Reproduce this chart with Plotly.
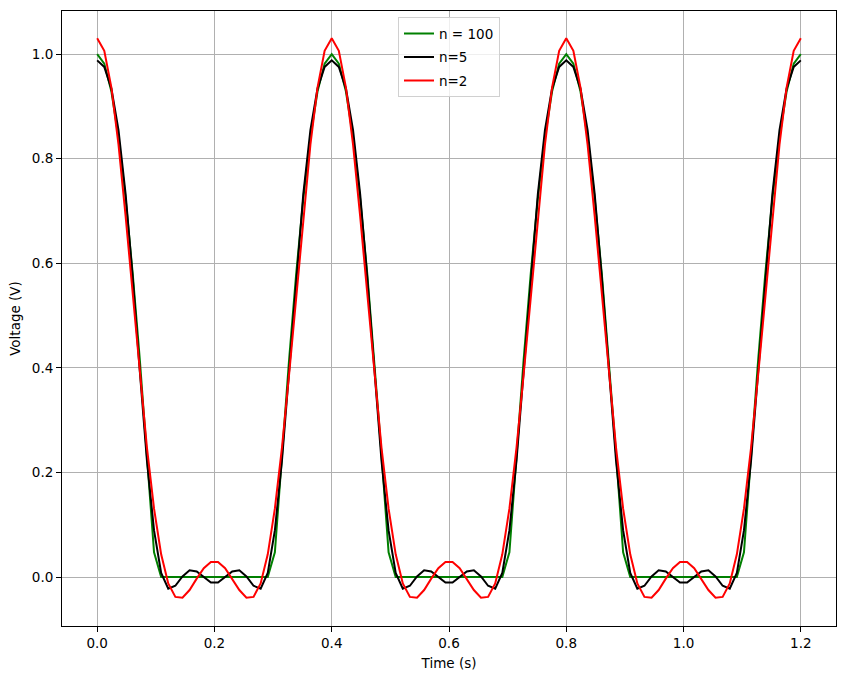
import plotly.graph_objects as go

# time samples (s), 100 points over 0..1.2
time_s = [
    0.00000, 0.01212, 0.02424, 0.03636, 0.04848, 0.06061, 0.07273, 0.08485, 0.09697, 0.10909,
    0.12121, 0.13333, 0.14545, 0.15758, 0.16970, 0.18182, 0.19394, 0.20606, 0.21818, 0.23030,
    0.24242, 0.25455, 0.26667, 0.27879, 0.29091, 0.30303, 0.31515, 0.32727, 0.33939, 0.35152,
    0.36364, 0.37576, 0.38788, 0.40000, 0.41212, 0.42424, 0.43636, 0.44848, 0.46061, 0.47273,
    0.48485, 0.49697, 0.50909, 0.52121, 0.53333, 0.54545, 0.55758, 0.56970, 0.58182, 0.59394,
    0.60606, 0.61818, 0.63030, 0.64242, 0.65455, 0.66667, 0.67879, 0.69091, 0.70303, 0.71515,
    0.72727, 0.73939, 0.75152, 0.76364, 0.77576, 0.78788, 0.80000, 0.81212, 0.82424, 0.83636,
    0.84848, 0.86061, 0.87273, 0.88485, 0.89697, 0.90909, 0.92121, 0.93333, 0.94545, 0.95758,
    0.96970, 0.98182, 0.99394, 1.00606, 1.01818, 1.03030, 1.04242, 1.05455, 1.06667, 1.07879,
    1.09091, 1.10303, 1.11515, 1.12727, 1.13939, 1.15152, 1.16364, 1.17576, 1.18788, 1.20000,
]

# n = 100 (green)
v_n100 = [
    1.0000, 0.9819, 0.9284, 0.8413, 0.7237, 0.5801, 0.4154, 0.2358, 0.0476, 0.0, 0.0, 0.0, 0.0, 0.0, 0.0, 0.0, 0.0,
    0.0, 0.0, 0.0, 0.0, 0.0, 0.0, 0.0, 0.0, 0.0476, 0.2358, 0.4154, 0.5801, 0.7237, 0.8413, 0.9284, 0.9819,
    1.0000, 0.9819, 0.9284, 0.8413, 0.7237, 0.5801, 0.4154, 0.2358, 0.0476, 0.0, 0.0, 0.0, 0.0, 0.0, 0.0, 0.0, 0.0,
    0.0, 0.0, 0.0, 0.0, 0.0, 0.0, 0.0, 0.0, 0.0476, 0.2358, 0.4154, 0.5801, 0.7237, 0.8413, 0.9284, 0.9819,
    1.0000, 0.9819, 0.9284, 0.8413, 0.7237, 0.5801, 0.4154, 0.2358, 0.0476, 0.0, 0.0, 0.0, 0.0, 0.0, 0.0, 0.0, 0.0,
    0.0, 0.0, 0.0, 0.0, 0.0, 0.0, 0.0, 0.0, 0.0476, 0.2358, 0.4154, 0.5801, 0.7237, 0.8413, 0.9284, 0.9819,
    1.0000,
]

# n=5 (black)
v_n5 = [
    0.9881, 0.9756, 0.9341, 0.8549, 0.7325, 0.5723, 0.3931, 0.2230, 0.0892, 0.0078, -0.0220, -0.0166, 0.0014, 0.0130, 0.0109, -0.0005, -0.0105,
    -0.0105, -0.0005, 0.0109, 0.0130, 0.0014, -0.0166, -0.0220, 0.0078, 0.0892, 0.2230, 0.3931, 0.5723, 0.7325, 0.8549, 0.9341, 0.9756,
    0.9881, 0.9756, 0.9341, 0.8549, 0.7325, 0.5723, 0.3931, 0.2230, 0.0892, 0.0078, -0.0220, -0.0166, 0.0014, 0.0130, 0.0109, -0.0005, -0.0105,
    -0.0105, -0.0005, 0.0109, 0.0130, 0.0014, -0.0166, -0.0220, 0.0078, 0.0892, 0.2230, 0.3931, 0.5723, 0.7325, 0.8549, 0.9341, 0.9756,
    0.9881, 0.9756, 0.9341, 0.8549, 0.7325, 0.5723, 0.3931, 0.2230, 0.0892, 0.0078, -0.0220, -0.0166, 0.0014, 0.0130, 0.0109, -0.0005, -0.0105,
    -0.0105, -0.0005, 0.0109, 0.0130, 0.0014, -0.0166, -0.0220, 0.0078, 0.0892, 0.2230, 0.3931, 0.5723, 0.7325, 0.8549, 0.9341, 0.9756,
    0.9881,
]

# n=2 (red)
v_n2 = [
    1.0305, 1.0063, 0.9361, 0.8271, 0.6903, 0.5389, 0.3870, 0.2476, 0.1309, 0.0435, -0.0120, -0.0378, -0.0393, -0.0247, -0.0030, 0.0171, 0.0290,
    0.0290, 0.0171, -0.0030, -0.0247, -0.0393, -0.0378, -0.0120, 0.0435, 0.1309, 0.2476, 0.3870, 0.5389, 0.6903, 0.8271, 0.9361, 1.0063,
    1.0305, 1.0063, 0.9361, 0.8271, 0.6903, 0.5389, 0.3870, 0.2476, 0.1309, 0.0435, -0.0120, -0.0378, -0.0393, -0.0247, -0.0030, 0.0171, 0.0290,
    0.0290, 0.0171, -0.0030, -0.0247, -0.0393, -0.0378, -0.0120, 0.0435, 0.1309, 0.2476, 0.3870, 0.5389, 0.6903, 0.8271, 0.9361, 1.0063,
    1.0305, 1.0063, 0.9361, 0.8271, 0.6903, 0.5389, 0.3870, 0.2476, 0.1309, 0.0435, -0.0120, -0.0378, -0.0393, -0.0247, -0.0030, 0.0171, 0.0290,
    0.0290, 0.0171, -0.0030, -0.0247, -0.0393, -0.0378, -0.0120, 0.0435, 0.1309, 0.2476, 0.3870, 0.5389, 0.6903, 0.8271, 0.9361, 1.0063,
    1.0305,
]

x_ticks = [0.0, 0.2, 0.4, 0.6, 0.8, 1.0, 1.2]
y_ticks = [0.0, 0.2, 0.4, 0.6, 0.8, 1.0]

FONT = "DejaVu Sans"

fig = go.Figure()
fig.add_trace(go.Scatter(x=time_s, y=v_n100, mode="lines", name="n = 100", legendgroup="a",
                         line=dict(color="green", width=2)))
fig.add_trace(go.Scatter(x=time_s, y=v_n5, mode="lines", name="n=5", legendgroup="b",
                         line=dict(color="black", width=2)))
fig.add_trace(go.Scatter(x=time_s, y=v_n2, mode="lines", name="n=2", legendgroup="c",
                         line=dict(color="red", width=2)))

axis_style = dict(
    showline=True, linecolor="black", linewidth=1, mirror=True,
    showgrid=True, gridcolor="#b0b0b0", gridwidth=1,
    ticks="outside", ticklen=5, tickcolor="black",
    zeroline=False, automargin=False,
    tickfont=dict(family=FONT, size=13.5, color="black"),
)

fig.update_xaxes(axis_style, range=[-0.06, 1.26], tickvals=x_ticks,
                 ticktext=[f"{v:.1f}" for v in x_ticks],
                 title=dict(text="Time (s)", font=dict(family=FONT, size=13.5, color="black"), standoff=8))
fig.update_yaxes(axis_style, range=[-0.0935, 1.0825], tickvals=y_ticks,
                 ticktext=[f"{v:.1f}" for v in y_ticks],
                 title=dict(text="Voltage (V)", font=dict(family=FONT, size=13.5, color="black"), standoff=8))

fig.update_layout(
    width=846, height=679,
    margin=dict(l=62, r=10, t=11, b=53),
    plot_bgcolor="white", paper_bgcolor="white",
    font=dict(family=FONT, size=13.5, color="black"),
    legend=dict(x=0.5, xanchor="center", y=0.99, yanchor="top",
                bgcolor="rgba(255,255,255,0.8)", bordercolor="#d0d0d0", borderwidth=1,
                font=dict(family=FONT, size=13.5, color="black"),
                tracegroupgap=3),
    showlegend=True,
)

fig.write_html("out.html", config={"displayModeBar": False},
               post_script="document.body.style.margin='0';")
